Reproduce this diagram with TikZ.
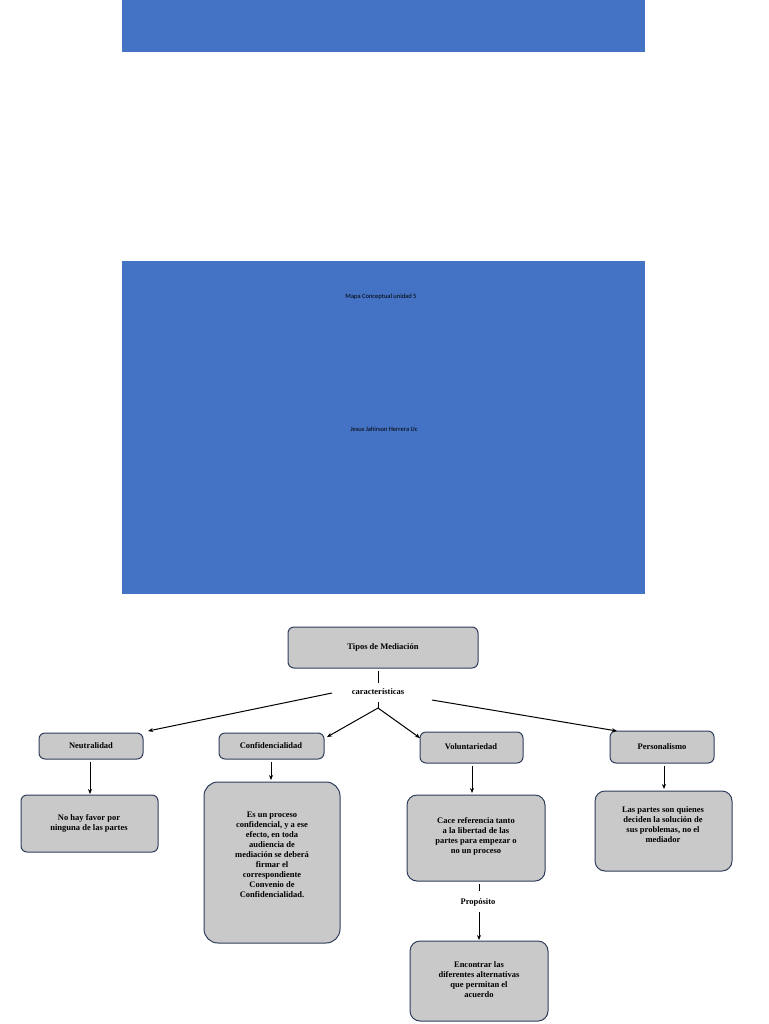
\documentclass[tikz,border=0pt]{standalone}
\usepackage{fontspec}
\setmainfont{Liberation Serif}
\newfontfamily\calfnt{Carlito}
\usetikzlibrary{arrows.meta}
\definecolor{bl}{HTML}{4472C4}
\definecolor{gr}{HTML}{C9C9C9}
\definecolor{bd}{HTML}{2F3C5C}
\tikzset{
 box/.style={draw=bd,line width=1pt,fill=gr,rounded corners=6pt,align=center,font=\fontsize{8.5}{10}\selectfont\bfseries},
 big/.style={box,rounded corners=14pt},
 lab/.style={font=\fontsize{8.5}{10}\selectfont\bfseries},
 arr/.style={-{Stealth[length=5pt,width=4pt]},line width=1pt},
 ln/.style={line width=0.8pt}
}
\begin{document}
\begin{tikzpicture}[x=1pt,y=-1pt]
\useasboundingbox (0,0) rectangle (768,1024);
\fill[bl] (122,0) rectangle (645,52);
\fill[bl] (122,261) rectangle (645,594);
\node[font=\calfnt\fontsize{6.5}{8}\selectfont] (t1) at (381,297) {Mapa Conceptual unidad 5};
\node[font=\calfnt\fontsize{6.5}{8}\selectfont] (t2) at (384,429) {Jesus Jahirson Herrera Uc};
\path[box] (288,627) rectangle (478,668);
\node[lab] (tm) at (383,647) {Tipos de Mediación};
\node[lab] (car) at (378,692) {características};
\draw[ln] (378,671) -- (378,683);
\coordinate (hub) at (378,708);
\draw[ln] (378,702) -- (hub);
\path[box] (39,733) rectangle (143,759); \node[lab] (n) at (91,746) {Neutralidad};
\path[box] (219,733) rectangle (324,759); \node[lab] (c) at (271,746) {Confidencialidad};
\path[box] (420,732) rectangle (523,763); \node[lab] (v) at (471,747) {Voluntariedad};
\path[box] (610,731) rectangle (714,763); \node[lab] (p) at (662,747) {Personalismo};
\draw[arr] (332,693) -- (148,731);
\draw[arr] (hub) -- (327,737);
\draw[arr] (hub) -- (420,738);
\draw[arr] (432,700) -- (617,731);
\path[box] (21,795) rectangle (158,852);
\node[lab,align=center] (b1) at (89,823) {No hay favor por\\ninguna de las partes};
\path[big] (204,782) rectangle (340,943);
\node[lab,align=center] (b2) at (272,855) {Es un proceso\\confidencial, y a ese\\efecto, en toda\\audiencia de\\mediación se deberá\\firmar el\\correspondiente\\Convenio de\\Confidencialidad.};
\path[big,rounded corners=10pt] (407,795) rectangle (545,881);
\node[lab,align=center] (b3) at (476,836) {Cace referencia tanto\\a la libertad de las\\partes para empezar o\\no un proceso};
\path[big,rounded corners=10pt] (595,791) rectangle (732,871);
\node[lab,align=center] (b4) at (663,825) {Las partes son quienes\\deciden la solución de\\sus problemas, no el\\mediador};
\path[big,rounded corners=10pt] (410,941) rectangle (548,1021);
\node[lab,align=center] (b5) at (479,980) {Encontrar las\\diferentes alternativas\\que permitan el\\acuerdo};
\draw[arr] (90,762) -- (90,794);
\draw[arr] (271,762) -- (271,780);
\draw[arr] (472,766) -- (472,793);
\draw[arr] (664,766) -- (664,789);
\node[lab] (pr) at (478,902) {Propósito};
\draw[ln] (479,884) -- (479,891);
\draw[arr] (479,912) -- (479,940);
\end{tikzpicture}
\end{document}
